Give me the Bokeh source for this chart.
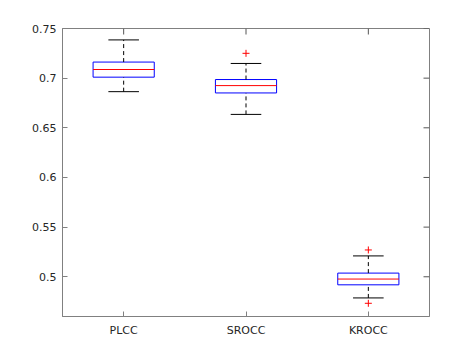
from bokeh.plotting import figure
from bokeh.models import FixedTicker, Range1d
from bokeh.embed import file_html
from bokeh.resources import INLINE
import math

categories = ["PLCC", "SROCC", "KROCC"]
positions = [1, 2, 3]
whisker_low = [0.6864, 0.6635, 0.4787]
q1 = [0.7010, 0.6851, 0.4919]
median = [0.7087, 0.6925, 0.4977]
q3 = [0.7162, 0.6986, 0.5037]
whisker_high = [0.7385, 0.7148, 0.5210]
outlier_pos = [2, 3, 3]
outlier_val = [0.7250, 0.5270, 0.4733]
y_ticks = [0.5, 0.55, 0.6, 0.65, 0.7, 0.75]
y_tick_labels = ["0.5", "0.55", "0.6", "0.65", "0.7", "0.75"]

AX = "#808080"
TXT = "#262626"
FONT = "DejaVu Sans"

xr = Range1d(0.5, 3.5)
yr = Range1d(0.46, 0.75)
p = figure(width=474, height=355, output_backend="svg", toolbar_location=None,
           x_range=xr, y_range=yr)
p.min_border_left = 62
p.min_border_right = 45
p.min_border_top = 28
p.min_border_bottom = 39
p.grid.visible = False
p.outline_line_color = AX
p.background_fill_color = "white"
p.border_fill_color = "white"

def style(ax):
    ax.axis_line_color = AX
    ax.major_tick_line_color = AX
    ax.major_tick_in = 5
    ax.major_tick_out = 0
    ax.minor_tick_line_color = None
    ax.major_label_text_color = TXT
    ax.major_label_text_font = FONT
    ax.major_label_text_font_size = "11px"

xa = p.xaxis[0]
xa.ticker = FixedTicker(ticks=positions)
xa.major_label_overrides = {pp: c for pp, c in zip(positions, categories)}
style(xa)
xa.major_label_standoff = 7

ya = p.yaxis[0]
ya.ticker = FixedTicker(ticks=y_ticks)
ya.major_label_overrides = {t: l for t, l in zip(y_ticks, y_tick_labels)}
style(ya)
ya.major_label_standoff = 6

bw = 0.25
cw = 0.125
x0 = [x - bw for x in positions]
x1 = [x + bw for x in positions]
c0 = [x - cw for x in positions]
c1 = [x + cw for x in positions]

# boxes
p.quad(left=x0, right=x1, bottom=q1, top=q3, fill_color=None, line_color="blue", line_width=1)
# medians
p.segment(x0, median, x1, median, line_color="red", line_width=1)
# caps
p.segment(c0, whisker_high, c1, whisker_high, line_color="black", line_width=1)
p.segment(c0, whisker_low, c1, whisker_low, line_color="black", line_width=1)
# outliers
p.scatter(outlier_pos, outlier_val, marker="cross", size=7, line_color="red", line_width=1)
# mirrored inward ticks on the right and top edges
p.ray(x=[xr.end] * len(y_ticks), y=y_ticks, length=6, length_units="screen",
      angle=math.pi, line_color="#555555", line_width=1)
p.ray(x=positions, y=[yr.end] * len(positions), length=6, length_units="screen",
      angle=-math.pi / 2, line_color="#555555", line_width=1)
# whiskers (dashed) drawn last
p.segment(positions, q3, positions, whisker_high, line_color="black", line_dash="4 3", line_width=1)
p.segment(positions, whisker_low, positions, q1, line_color="black", line_dash="4 3", line_width=1)

open("out.html", "w").write(file_html(p, INLINE))
